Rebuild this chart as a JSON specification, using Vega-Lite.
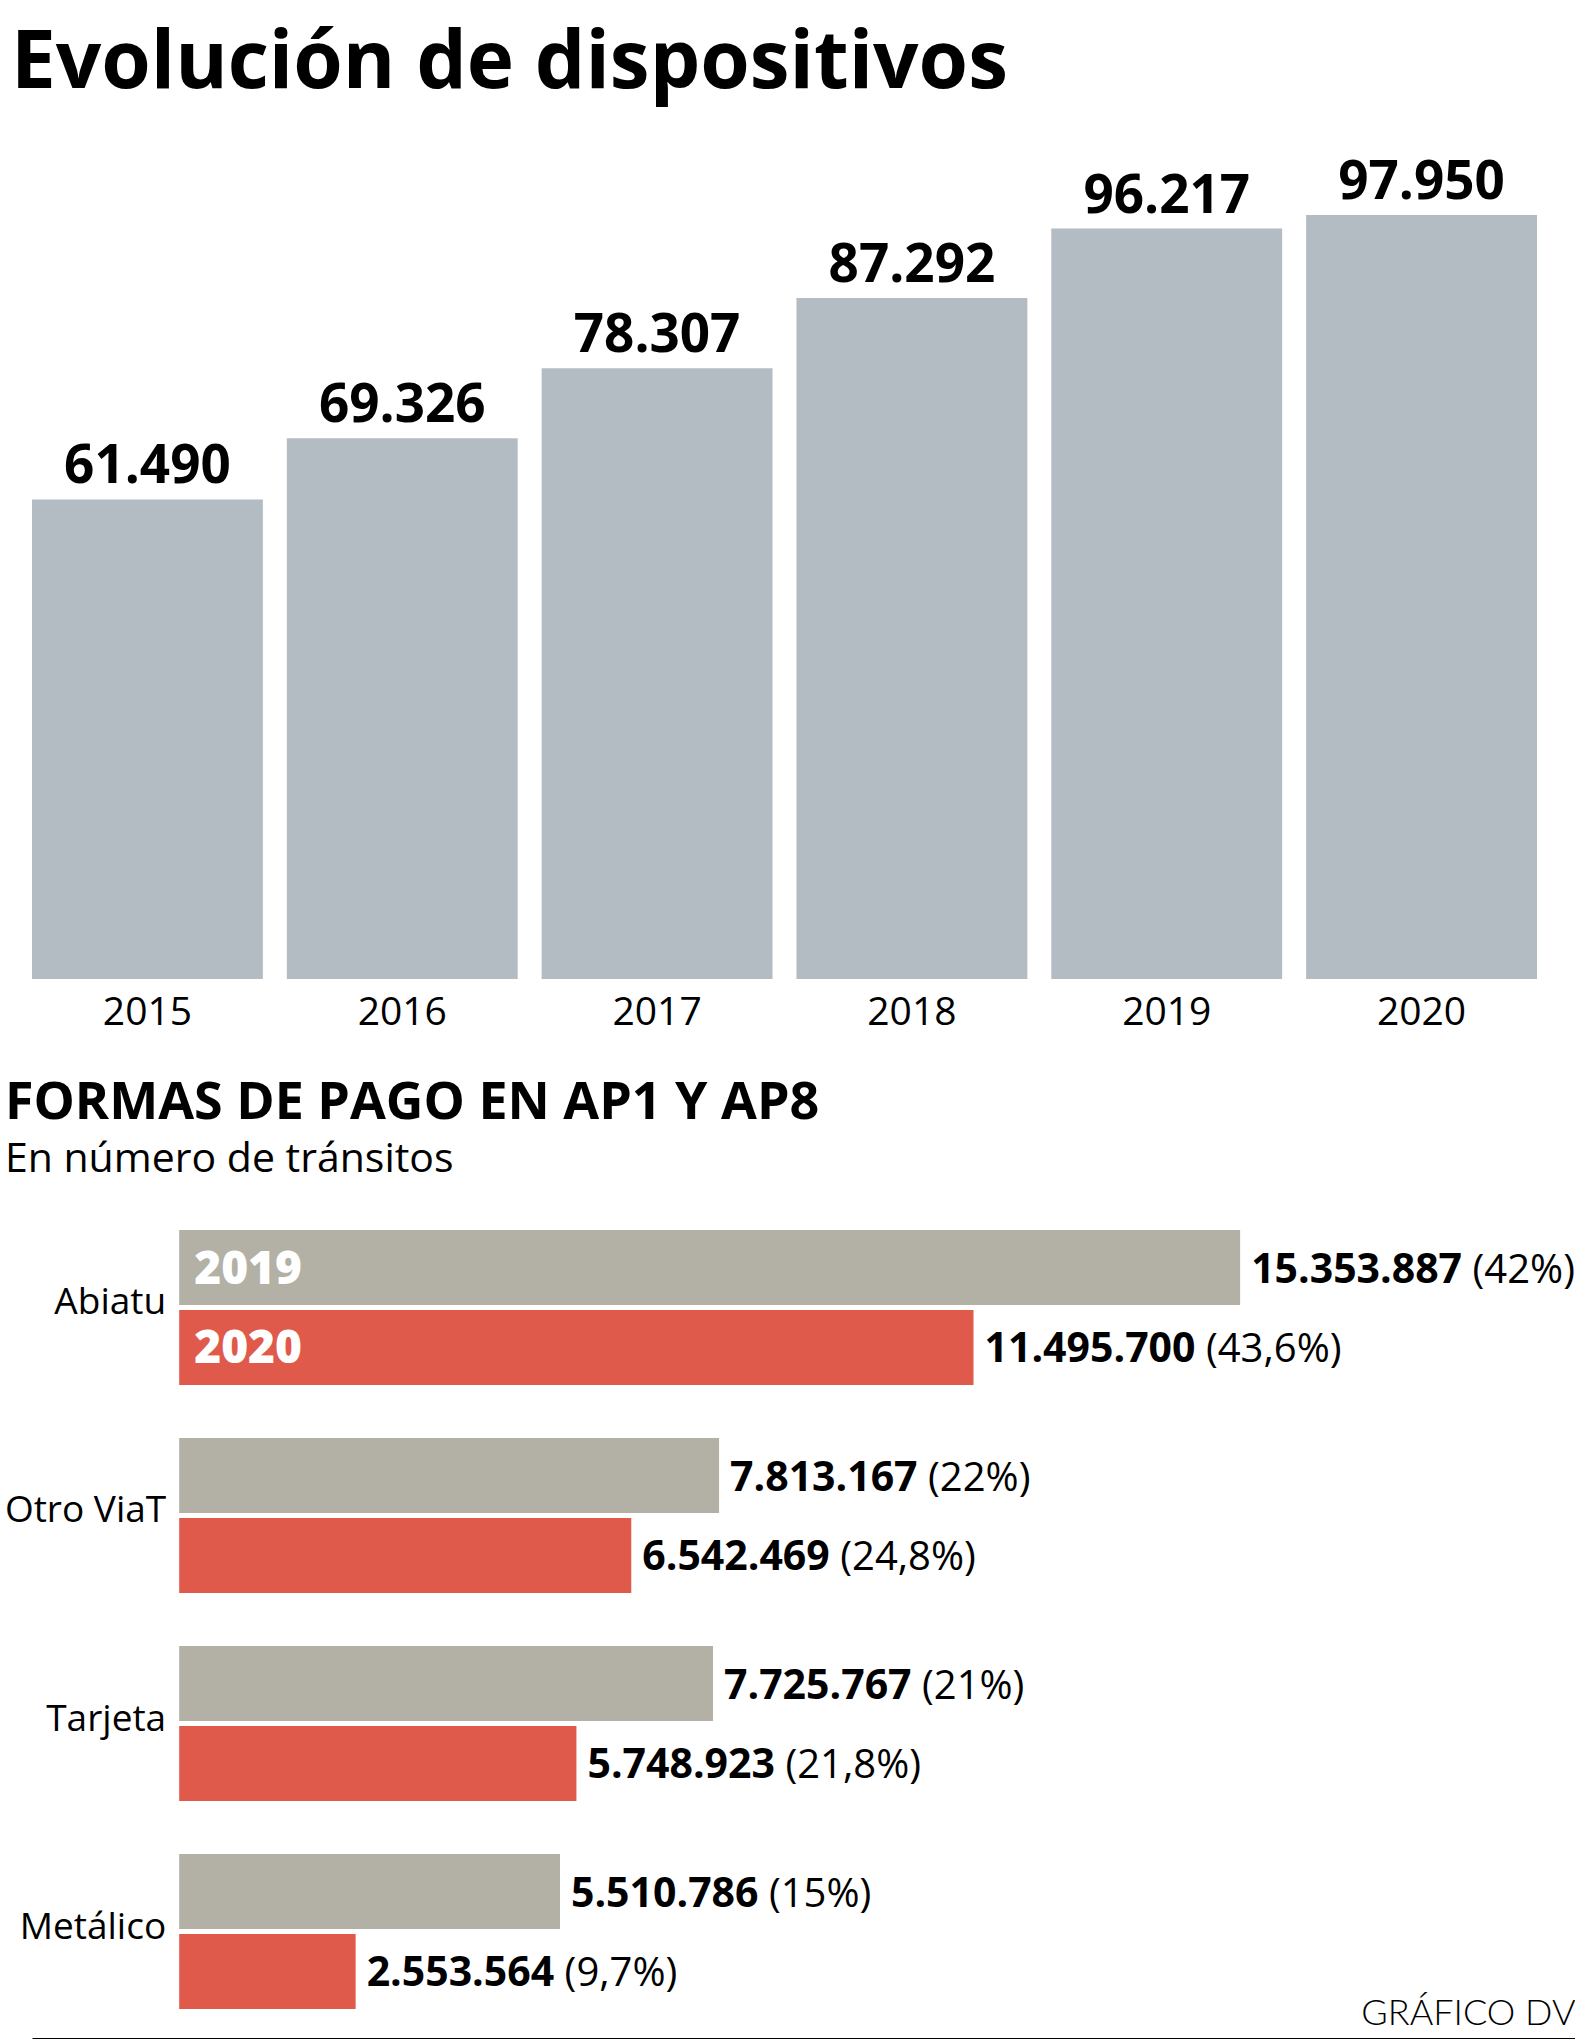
{
  "$schema": "https://vega.github.io/schema/vega-lite/v6.json",
  "background": "white",
  "padding": {"left": 4, "top": 23, "right": 0, "bottom": 0},
  "autosize": {"type": "pad"},
  "config": {
    "view": {"stroke": null},
    "font": "Open Sans",
    "axis": {"labelColor": "#000", "titleColor": "#000"}
  },
  "title": {
    "text": "Evolución de dispositivos",
    "anchor": "start",
    "font": "Open Sans",
    "fontSize": 80,
    "fontWeight": "bold",
    "color": "#000",
    "offset": 52,
    "dx": 6
  },
  "align": "none",
  "spacing": 45,
  "vconcat": [
    {
      "width": 1505,
      "height": 780,
      "data": {
        "values": [
          {"año": "2015", "dispositivos": 61490, "etiqueta": "61.490"},
          {"año": "2016", "dispositivos": 69326, "etiqueta": "69.326"},
          {"año": "2017", "dispositivos": 78307, "etiqueta": "78.307"},
          {"año": "2018", "dispositivos": 87292, "etiqueta": "87.292"},
          {"año": "2019", "dispositivos": 96217, "etiqueta": "96.217"},
          {"año": "2020", "dispositivos": 97950, "etiqueta": "97.950"}
        ]
      },
      "encoding": {
        "x": {
          "field": "año",
          "type": "nominal",
          "scale": {"paddingInner": 0.094, "paddingOuter": 0},
          "axis": {
            "title": null,
            "labelAngle": 0,
            "ticks": false,
            "domain": false,
            "labelFont": "Open Sans",
            "labelFontSize": 39,
            "labelPadding": 14
          }
        },
        "y": {
          "field": "dispositivos",
          "type": "quantitative",
          "scale": {"domain": [0, 100000], "nice": false},
          "axis": null
        }
      },
      "layer": [
        {"mark": {"type": "bar", "color": "#B4BCC3"}},
        {
          "mark": {
            "type": "text",
            "dy": -16,
            "baseline": "alphabetic",
            "font": "Open Sans",
            "fontSize": 53,
            "fontWeight": "bold",
            "color": "#000"
          },
          "encoding": {"text": {"field": "etiqueta"}}
        }
      ]
    },
    {
      "width": 1543,
      "height": 779,
      "title": {
        "text": "FORMAS DE PAGO EN AP1 Y AP8",
        "subtitle": "En número de tránsitos",
        "anchor": "start",
        "frame": "bounds",
        "font": "Open Sans",
        "fontSize": 52,
        "fontWeight": "bold",
        "color": "#000",
        "subtitleFont": "Open Sans",
        "subtitleFontSize": 41,
        "subtitleColor": "#000",
        "subtitlePadding": 10,
        "offset": 49
      },
      "data": {
        "values": [
          {"forma": "Abiatu", "año": "2019", "valor": 15353887, "num": "15.353.887", "pct": "(42%)"},
          {"forma": "Abiatu", "año": "2020", "valor": 11495700, "num": "11.495.700", "pct": "(43,6%)"},
          {"forma": "Otro ViaT", "año": "2019", "valor": 7813167, "num": "7.813.167", "pct": "(22%)"},
          {"forma": "Otro ViaT", "año": "2020", "valor": 6542469, "num": "6.542.469", "pct": "(24,8%)"},
          {"forma": "Tarjeta", "año": "2019", "valor": 7725767, "num": "7.725.767", "pct": "(21%)"},
          {"forma": "Tarjeta", "año": "2020", "valor": 5748923, "num": "5.748.923", "pct": "(21,8%)"},
          {"forma": "Metálico", "año": "2019", "valor": 5510786, "num": "5.510.786", "pct": "(15%)"},
          {"forma": "Metálico", "año": "2020", "valor": 2553564, "num": "2.553.564", "pct": "(9,7%)"}
        ]
      },
      "encoding": {
        "y": {
          "field": "forma",
          "type": "nominal",
          "sort": ["Abiatu", "Otro ViaT", "Tarjeta", "Metálico"],
          "scale": {"paddingInner": 0.255, "paddingOuter": 0},
          "axis": null
        },
        "x": {
          "field": "valor",
          "type": "quantitative",
          "scale": {"domain": [-2130000, 20200000], "nice": false, "zero": false},
          "axis": {
            "orient": "bottom",
            "labels": false,
            "ticks": false,
            "domain": true,
            "domainColor": "#000",
            "domainWidth": 3,
            "offset": 30,
            "grid": false,
            "title": "GRÁFICO DV",
            "titleAnchor": "end",
            "titleFont": "Lato",
            "titleFontWeight": 300,
            "titleFontSize": 36,
            "titleBaseline": "alphabetic",
            "titlePadding": -15
          }
        }
      },
      "layer": [
        {
          "mark": {"type": "bar"},
          "encoding": {
            "x": {"field": "valor", "type": "quantitative"},
            "x2": {"datum": 0},
            "yOffset": {"field": "año", "type": "nominal", "sort": ["2019", "2020"], "scale": {"paddingInner": 0.06}},
            "color": {
              "field": "año",
              "type": "nominal",
              "scale": {"domain": ["2019", "2020"], "range": ["#B3B1A5", "#E05A4C"]},
              "legend": null
            }
          }
        },
        {
          "mark": {
            "type": "text",
            "align": "left",
            "baseline": "middle",
            "dx": 11,
            "dy": 3,
            "font": "Open Sans",
            "fontSize": 41,
            "fontWeight": "bold",
            "color": "#000"
          },
          "encoding": {
            "yOffset": {"field": "año", "type": "nominal", "sort": ["2019", "2020"], "scale": {"paddingInner": 0.06}},
            "text": {"field": "num"}
          }
        },
        {
          "mark": {
            "type": "text",
            "align": "left",
            "baseline": "middle",
            "dx": {"expr": "44.8 + (length(datum.num) - 2) * 23.45"},
            "dy": 3,
            "font": "Open Sans",
            "fontSize": 40,
            "color": "#000"
          },
          "encoding": {
            "yOffset": {"field": "año", "type": "nominal", "sort": ["2019", "2020"], "scale": {"paddingInner": 0.06}},
            "text": {"field": "pct"}
          }
        },
        {
          "transform": [{"filter": "datum.forma == 'Abiatu'"}],
          "mark": {
            "type": "text",
            "align": "left",
            "baseline": "middle",
            "dx": 15,
            "dy": 2,
            "font": "Open Sans",
            "fontSize": 46,
            "fontWeight": 800,
            "color": "white"
          },
          "encoding": {
            "x": {"datum": 0},
            "yOffset": {"field": "año", "type": "nominal", "sort": ["2019", "2020"], "scale": {"paddingInner": 0.06}},
            "text": {"field": "año"}
          }
        },
        {
          "transform": [{"filter": "datum.año == '2019'"}],
          "mark": {
            "type": "text",
            "align": "right",
            "baseline": "middle",
            "dx": -13,
            "dy": -4,
            "font": "Open Sans",
            "fontSize": 37,
            "color": "#000"
          },
          "encoding": {
            "x": {"datum": 0},
            "text": {"field": "forma"}
          }
        }
      ]
    }
  ]
}
